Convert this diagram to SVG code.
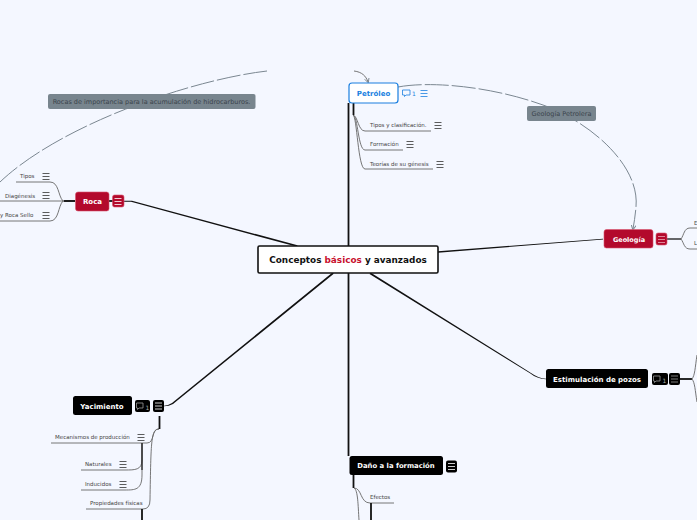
<svg xmlns="http://www.w3.org/2000/svg" width="697" height="520" viewBox="0 0 697 520">
<style>
text{font-family:"DejaVu Sans",Verdana,sans-serif}
.t{font-size:7px;font-weight:700;fill:#fff;text-anchor:middle}
.s{font-size:5.5px;fill:#444}
.n{font-size:6.5px;fill:#3a444c;text-anchor:middle}
.taper{fill:#111;stroke:none}
.thick{fill:none;stroke:#111;stroke-width:1.800}
.sub{fill:none;stroke:#666;stroke-width:.9}
.dash{fill:none;stroke:#7b8791;stroke-width:1;stroke-dasharray:24 3}
.ic{fill:none;stroke:#333;stroke-width:.8}
.icw{fill:none;stroke:#fff;stroke-width:.8}
.icf{fill:none;stroke:#e8a5b3;stroke-width:.8}
.icd{fill:none;stroke:#999;stroke-width:.8}
.icb{fill:none;stroke:#1a7fe0;stroke-width:.8}
.black{fill:#000}
.red{fill:#b3092c;stroke:#d9566f;stroke-width:.6}
.note{fill:#78858e}
</style>
<defs>
<marker id="a" markerWidth="6" markerHeight="6" refX="4" refY="3" orient="auto"><path d="M0 .5L5 3L0 5.5" fill="none" stroke="#7b8791"/></marker>
<path id="m" d="M-3.500 -2.500H3.500M-3.500 .5H3.500M-3.500 3.500H3.500"/>
</defs>
<rect width="697" height="520" fill="#f4f7ff"/>
<g id="connectors">
<path class="taper" d="M124 200.800H132L297.500 245.300L297 246.800L131 201.800H124Z"/>
<path class="taper" d="M438 251.300L603 238.800V239.400L438 252.700Z"/>
<path class="taper" d="M332.500 272.500L333.800 273.800L173 404Q169 406.300 164 406.300V405.700Q168 405.500 172 403Z"/>
<path class="taper" d="M370.500 272.500L369.500 274L530 373.300Q537 379 546 379.300V378.800Q538 378 531 373Z"/>
<path class="thick" d="M348.500 103V246"/>
<path class="thick" d="M348.500 273V456"/>
<path class="sub" d="M75 201H63C58 196 59 182 50 182H16"/>
<path class="sub" d="M75 201H0"/>
<path class="sub" d="M63 201C58 206 59 221 50 221H0"/>
<path class="thick" d="M64 201H75"/>
<path class="thick" d="M109 201H113"/>
<path class="sub" d="M353 115C358 116 358 131 365 131H431"/>
<path class="sub" d="M353 115C358 116 358 150 365 150H403"/>
<path class="sub" d="M353 115C357 116 358 169 365 169H433"/>
<path class="thick" d="M353.500 103V115"/>
<path class="thick" d="M667 239H681" stroke-opacity=".7"/>
<path class="sub" d="M681 239C684 235 684 228 690 228H697"/>
<path class="sub" d="M681 239C684 243 684 249 690 249H697"/>
<path class="thick" d="M680 379H692"/>
<path class="sub" d="M692 379C695 375 695 368 697 355"/>
<path class="sub" d="M692 379C695 383 695 390 697 402"/>
<path class="sub" d="M159 429C151 429 155 443 147 443H51"/>
<path class="sub" d="M142 443V460C142 470 135 470 125 470H81"/>
<path class="sub" d="M142 443V475C142 490 135 490 125 490H81"/>
<path class="sub" d="M159 429C151 429 151 440 150 500Q150 509 143 509H86"/>
<path class="thick" d="M159.500 416V429"/>
<path class="thick" d="M142 509V520"/>
<path class="thick" d="M142 443V470" stroke-opacity=".6"/>
<path class="thick" d="M353.500 474V488"/>
<path class="sub" d="M354 488C362 488 360 503 370 503H394"/>
<path class="sub" d="M354 488C358 490 358 505 359 520"/>
<path class="thick" d="M371 503V520"/>
<path class="dash" d="M267 71C190 80 60 125 0 182"/>
<path class="dash" d="M398 87C430 81 490 86 543 105C590 122 640 165 636 207Q635 218 633 229" marker-end="url(#a)"/>
<path class="sub" d="M354 71C362 72 366 76 368 82" marker-end="url(#a)"/>
</g>
<g id="central"><rect x="258" y="246" width="180" height="27" rx="1.500" fill="#fff" stroke="#111" stroke-width="1.600"/>
<text x="348" y="263" font-size="8.900" font-weight="700" text-anchor="middle" fill="#111">Conceptos <tspan fill="#c8102e">básicos</tspan> y avanzados</text></g>
<g id="note-rocas"><rect class="note" x="48" y="94" width="207.500" height="15" rx="2"/><text class="n" x="151.500" y="104">Rocas de importancia para la acumulación de hidrocarburos.</text></g>
<g id="note-geologia"><rect class="note" x="527" y="106" width="69" height="15" rx="2"/><text class="n" x="561.500" y="116">Geología Petrolera</text></g>
<g id="petroleo"><rect x="349" y="83" width="49" height="20" rx="3" fill="#fff" stroke="#1a7fe0" stroke-width="1.200"/>
<text x="373.500" y="96" font-size="7" font-weight="700" text-anchor="middle" fill="#1a7fe0">Petróleo</text>
<path class="icb" d="M402.500 90H410V95H406L404.500 96.500V95H402.500Z"/><text x="412" y="96" font-size="6" fill="#1a7fe0">1</text>
<use href="#m" x="424" y="93" class="icb"/></g>
<g id="tipos-clasif"><text class="s" x="370" y="127">Tipos y clasificación.</text><use href="#m" x="438" y="125" class="ic"/></g>
<g id="formacion"><text class="s" x="370" y="146">Formación</text><use href="#m" x="410" y="144" class="ic"/></g>
<g id="teorias"><text class="s" x="370" y="166">Teorías de su génesis</text><use href="#m" x="440" y="164" class="ic"/></g>
<g id="roca"><rect class="red" x="75.500" y="192" width="33.500" height="19" rx="2.500"/><text class="t" x="92.500" y="204">Roca</text>
<rect class="red" x="112.500" y="195" width="11.500" height="12" rx="2"/><use href="#m" x="118" y="201" class="icw"/></g>
<g id="tipos"><text class="s" x="20" y="178">Tipos</text><use href="#m" x="46" y="176" class="ic"/></g>
<g id="diagenesis"><text class="s" x="5" y="198">Diagénesis</text><use href="#m" x="46" y="195" class="ic"/></g>
<g id="sello"><text class="s" x="0" y="217">y Roca Sello</text><use href="#m" x="46" y="215" class="ic"/></g>
<g id="geologia"><rect class="red" x="604" y="229.500" width="49" height="18.500" rx="2.500"/><text class="t" x="629" y="241.500" style="font-size:6.500px">Geología</text>
<rect class="red" x="656" y="233" width="11" height="12" rx="2"/><use href="#m" x="661.500" y="239" class="icf"/></g>
<g id="geo-items"><text class="s" x="694" y="225">E</text><text class="s" x="694" y="245">L</text></g>
<g id="estimulacion"><rect class="black" x="546" y="369" width="102" height="19" rx="2.500"/><text class="t" x="597" y="381.500">Estimulación de pozos</text>
<rect class="black" x="652" y="373" width="16" height="12" rx="2"/><path class="icd" d="M653.500 376H660V381H656L654.500 382.500V381H653.500Z"/><text x="662.500" y="383" font-size="6" fill="#aaa">1</text>
<rect class="black" x="669" y="373" width="11" height="12" rx="2"/><use href="#m" x="674.500" y="378.500" class="icd"/></g>
<g id="yacimiento"><rect class="black" x="73" y="396" width="59" height="19" rx="2.500"/><text class="t" x="102" y="408.500">Yacimiento</text>
<rect class="black" x="135" y="400" width="15" height="12" rx="2"/><path class="icd" d="M136.500 403H143V408H139L137.500 409.500V408H136.500Z"/><text x="145.500" y="409.500" font-size="6" fill="#aaa">1</text>
<rect class="black" x="153" y="400" width="11" height="12" rx="2"/><use href="#m" x="158.500" y="405.500" class="icw"/></g>
<g id="mecanismos"><text class="s" x="55" y="439">Mecanismos de producción</text><use href="#m" x="141" y="437" class="ic"/></g>
<g id="naturales"><text class="s" x="85" y="466">Naturales</text><use href="#m" x="123" y="464" class="ic"/></g>
<g id="inducidos"><text class="s" x="85" y="486">Inducidos</text><use href="#m" x="123" y="484" class="ic"/></g>
<g id="propiedades"><text class="s" x="90" y="505">Propiedades físicas</text></g>
<g id="dano"><rect class="black" x="349.500" y="456" width="93.500" height="19" rx="2.500"/><text class="t" x="396" y="468" style="font-size:6.850px">Daño a la formación</text>
<rect class="black" x="446" y="460.500" width="11" height="12" rx="2"/><use href="#m" x="451.500" y="466" class="icw"/></g>
<g id="efectos"><text class="s" x="370" y="499">Efectos</text></g>
</svg>
